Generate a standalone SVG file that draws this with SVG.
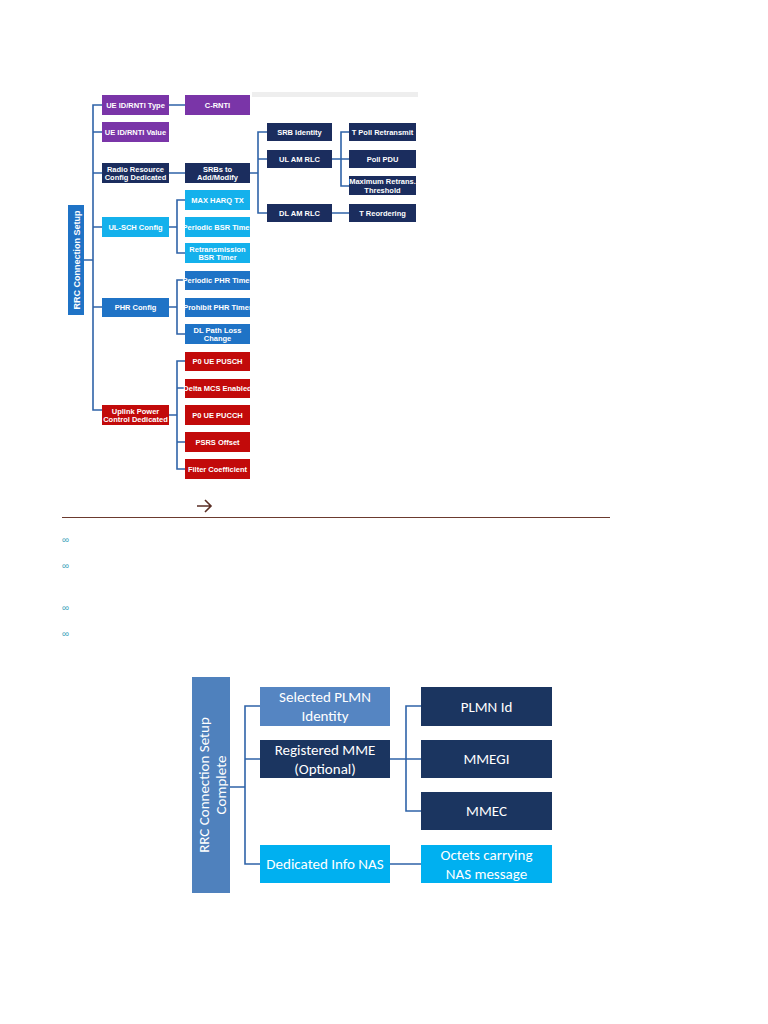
<svg xmlns="http://www.w3.org/2000/svg" width="768" height="1024" viewBox="0 0 768 1024">
<style>
text{font-family:"Liberation Sans",Arial,sans-serif;fill:#fff;text-anchor:middle;font-weight:bold}
.s{font-size:7.5px}
.b{font-size:15px;font-weight:normal;font-family:Calibri,"Carlito","Liberation Sans",sans-serif}
.pu{fill:#7a35a8}.nv{fill:#1b2d5e}.lb{fill:#14b1ec}.mb{fill:#1f73c6}.rd{fill:#c20a0a}
.n2{fill:#1b3560}.cy{fill:#00b0f0}.sb{fill:#5585c2}
.c path{fill:none;stroke:#2f63a8;stroke-width:1.6}
</style>
<rect x="252" y="92" width="166" height="5" fill="#eeeeee"/>
<g class="c">
<path d="M84 260H93M102 105H93V410H102M93 132H102M93 173H102M93 227H102M93 307H102"/>
<path d="M169 105H185M169 173H185"/>
<path d="M169 227H177M185 200H177V253H185"/>
<path d="M169 307H177M185 280H177V334H185"/>
<path d="M169 415H177M185 361H177V469H185M177 388H185M177 442H185"/>
<path d="M250 173H258M267 132H258V213H267M258 159H267"/>
<path d="M332 159H341M349 132H341V186H349M341 159H349M332 213H349"/>
<path d="M230 787H245M260 706H245V864H260M245 759H260"/>
<path d="M390 759H406M421 706H406V811H421M406 759H421M390 864H421"/>
</g>
<g id="root1"><rect x="68" y="205" width="16" height="110" class="mb"/><text class="s" font-size="9" transform="translate(79.5 260) rotate(-90)" style="font-size:9px">RRC Connection Setup</text></g>
<g id="n1"><rect x="102" y="95" width="67" height="20" class="pu"/><text class="s" x="135.5" y="108">UE ID/RNTI Type</text></g>
<g id="n2"><rect x="102" y="122" width="67" height="20" class="pu"/><text class="s" x="135.5" y="135">UE ID/RNTI Value</text></g>
<g id="n3"><rect x="102" y="163" width="67" height="20" class="nv"/><text class="s" x="135.5" y="171.5">Radio Resource</text><text class="s" x="135.5" y="180">Config Dedicated</text></g>
<g id="n4"><rect x="102" y="217" width="67" height="20" class="lb"/><text class="s" x="135.5" y="230">UL-SCH Config</text></g>
<g id="n5"><rect x="102" y="298" width="67" height="19" class="mb"/><text class="s" x="135.5" y="310">PHR Config</text></g>
<g id="n6"><rect x="102" y="405" width="67" height="20" class="rd"/><text class="s" x="135.5" y="413.5">Uplink Power</text><text class="s" x="135.5" y="422">Control Dedicated</text></g>
<g id="n7"><rect x="185" y="95" width="65" height="20" class="pu"/><text class="s" x="217.5" y="108">C-RNTI</text></g>
<g id="n8"><rect x="185" y="163" width="65" height="20" class="nv"/><text class="s" x="217.5" y="171.5">SRBs to</text><text class="s" x="217.5" y="180">Add/Modify</text></g>
<g id="n9"><rect x="185" y="190" width="65" height="20" class="lb"/><text class="s" x="217.5" y="203">MAX HARQ TX</text></g>
<g id="n10"><rect x="185" y="217" width="65" height="20" class="lb"/><text class="s" x="217.5" y="230">Periodic BSR Timer</text></g>
<g id="n11"><rect x="185" y="243" width="65" height="20" class="lb"/><text class="s" x="217.5" y="251.5">Retransmission</text><text class="s" x="217.5" y="260">BSR Timer</text></g>
<g id="n12"><rect x="185" y="271" width="65" height="19" class="mb"/><text class="s" x="217.5" y="283">Periodic PHR Timer</text></g>
<g id="n13"><rect x="185" y="298" width="65" height="19" class="mb"/><text class="s" x="217.5" y="310">Prohibit PHR Timer</text></g>
<g id="n14"><rect x="185" y="324" width="65" height="20" class="mb"/><text class="s" x="217.5" y="332.5">DL Path Loss</text><text class="s" x="217.5" y="341">Change</text></g>
<g id="n15"><rect x="185" y="352" width="65" height="19" class="rd"/><text class="s" x="217.5" y="364">P0 UE PUSCH</text></g>
<g id="n16"><rect x="185" y="379" width="65" height="19" class="rd"/><text class="s" x="217.5" y="391">Delta MCS Enabled</text></g>
<g id="n17"><rect x="185" y="405" width="65" height="20" class="rd"/><text class="s" x="217.5" y="418">P0 UE PUCCH</text></g>
<g id="n18"><rect x="185" y="432" width="65" height="20" class="rd"/><text class="s" x="217.5" y="445">PSRS Offset</text></g>
<g id="n19"><rect x="185" y="459" width="65" height="20" class="rd"/><text class="s" x="217.5" y="472">Filter Coefficient</text></g>
<g id="n20"><rect x="267" y="123" width="65" height="18" class="nv"/><text class="s" x="299.5" y="135">SRB Identity</text></g>
<g id="n21"><rect x="267" y="150" width="65" height="18" class="nv"/><text class="s" x="299.5" y="162">UL AM RLC</text></g>
<g id="n22"><rect x="267" y="204" width="65" height="18" class="nv"/><text class="s" x="299.5" y="216">DL AM RLC</text></g>
<g id="n23"><rect x="349" y="123" width="67" height="18" class="nv"/><text class="s" x="382.5" y="135">T Poll Retransmit</text></g>
<g id="n24"><rect x="349" y="150" width="67" height="18" class="nv"/><text class="s" x="382.5" y="162">Poll PDU</text></g>
<g id="n25"><rect x="349" y="176" width="67" height="19" class="nv"/><text class="s" x="382.5" y="184">Maximum Retrans.</text><text class="s" x="382.5" y="192.5">Threshold</text></g>
<g id="n26"><rect x="349" y="204" width="67" height="18" class="nv"/><text class="s" x="382.5" y="216">T Reordering</text></g>
<path d="M197 506H211M205 500L211 506L205 512" fill="none" stroke="#5a2e24" stroke-width="1.6"/>
<line x1="62" y1="517.5" x2="610" y2="517.5" stroke="#6b3a2e" stroke-width="1.2"/>
<g style="font-size:10px;fill:#4aa8c0;font-weight:normal;text-anchor:start">
<text x="62" y="543" style="fill:#4aa8c0;font-weight:normal;text-anchor:start;font-size:10px">∞</text>
<text x="62" y="569" style="fill:#4aa8c0;font-weight:normal;text-anchor:start;font-size:10px">∞</text>
<text x="62" y="611" style="fill:#4aa8c0;font-weight:normal;text-anchor:start;font-size:10px">∞</text>
<text x="62" y="637" style="fill:#4aa8c0;font-weight:normal;text-anchor:start;font-size:10px">∞</text>
</g>
<g id="root2"><rect x="192" y="677" width="38" height="216" fill="#4f81bd"/><text class="b" transform="translate(209 785) rotate(-90)">RRC Connection Setup</text><text class="b" transform="translate(226 785) rotate(-90)">Complete</text></g>
<g id="m1"><rect x="260" y="687" width="130" height="39" class="sb"/><text class="b" x="325" y="702">Selected PLMN</text><text class="b" x="325" y="721">Identity</text></g>
<g id="m2"><rect x="260" y="740" width="130" height="38" class="n2"/><text class="b" x="325" y="755">Registered MME</text><text class="b" x="325" y="774">(Optional)</text></g>
<g id="m3"><rect x="260" y="845" width="130" height="38" class="cy"/><text class="b" x="325" y="869">Dedicated Info NAS</text></g>
<g id="m4"><rect x="421" y="687" width="131" height="39" class="n2"/><text class="b" x="486.5" y="712">PLMN Id</text></g>
<g id="m5"><rect x="421" y="740" width="131" height="38" class="n2"/><text class="b" x="486.5" y="764">MMEGI</text></g>
<g id="m6"><rect x="421" y="792" width="131" height="38" class="n2"/><text class="b" x="486.5" y="816">MMEC</text></g>
<g id="m7"><rect x="421" y="845" width="131" height="38" class="cy"/><text class="b" x="486.5" y="860">Octets carrying</text><text class="b" x="486.5" y="879">NAS message</text></g>
</svg>
